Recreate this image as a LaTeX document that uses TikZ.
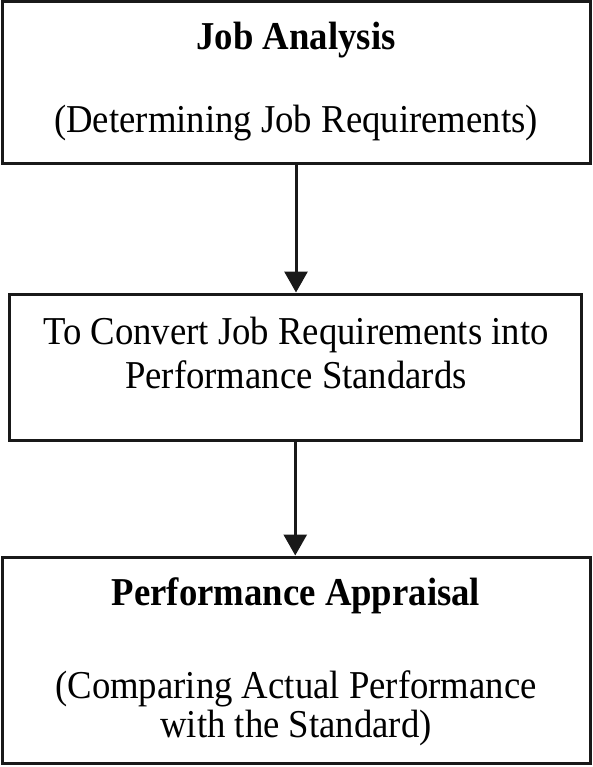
\documentclass[tikz,border=0pt]{standalone}
\usepackage{fontspec}
\setmainfont[FakeStretch=0.93]{Liberation Serif}
\usetikzlibrary{arrows.meta}
\begin{document}
\begin{tikzpicture}[x=1pt,y=-1pt,
 box/.style={draw=black!90, line width=3pt, inner sep=0pt},
 txt/.style={font=\fontsize{39.5}{44}\selectfont, anchor=base, inner sep=0pt},
 bold/.style={txt, font=\fontsize{39.5}{44}\selectfont\bfseries},
 flow/.style={draw=black!90, line width=3pt, -{Triangle[width=23pt,length=21pt]}}]
\useasboundingbox (0,0) rectangle (592,767);
\node[box, minimum width=588pt, minimum height=162pt] (b1) at (296,83) {};
\node[box, minimum width=571.5pt, minimum height=146pt] (b2) at (295.25,367) {};
\node[box, minimum width=587.5pt, minimum height=206pt] (b3) at (296.25,660) {};
\draw[flow] (b1.south) -- (b1.south |- b2.north);
\draw[flow] (b2.south) -- (b2.south |- b3.north);
\node[bold] (t1a) at (296,50) {Job Analysis};
\node[txt] (t1b) at (296,133) {(Determining Job Requirements)};
\node[txt] (t2a) at (296,344) {To Convert Job Requirements into};
\node[txt] (t2b) at (296,388) {Performance Standards};
\node[bold] (t3a) at (296,605) {Performance Appraisal};
\node[txt] (t3b) at (296,698) {(Comparing Actual Performance};
\node[txt] (t3c) at (296,737) {with the Standard)};
\end{tikzpicture}
\end{document}
